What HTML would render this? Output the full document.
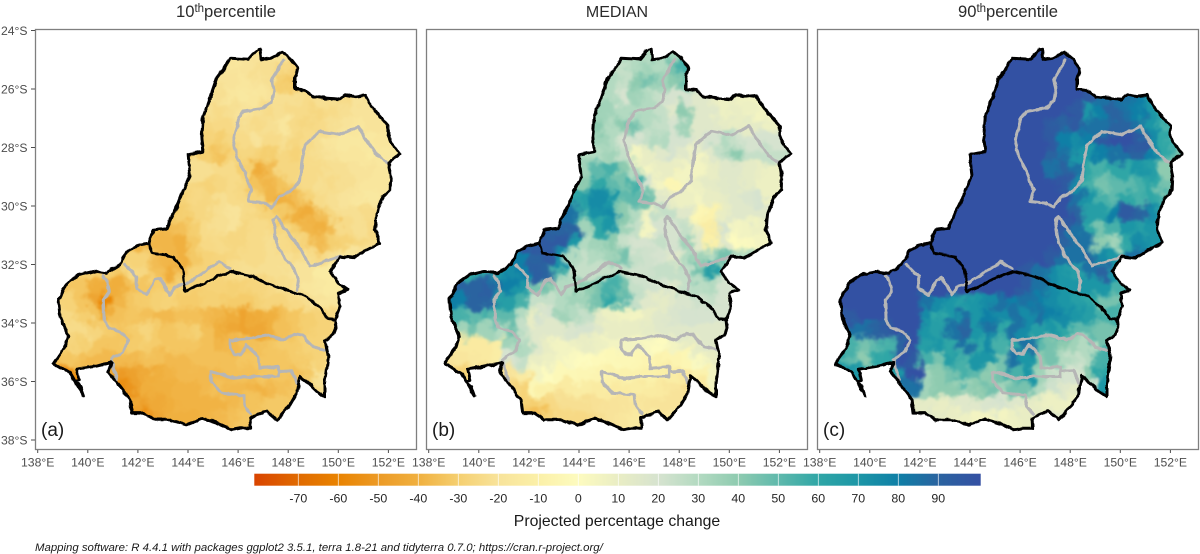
<!DOCTYPE html>
<html lang="en">
<head>
<meta charset="utf-8">
<title>Projected percentage change maps</title>
<style>
html,body{margin:0;padding:0;background:#fff;}
body{width:1200px;height:554px;overflow:hidden;}
svg{display:block;font-family:"Liberation Sans",Arial,sans-serif;}
</style>
</head>
<body>
<svg id="chart" xmlns="http://www.w3.org/2000/svg" width="1200" height="554" viewBox="0 0 1200 554">
  <rect width="1200" height="554" fill="#fff"/>
  <defs id="defs">
    <filter id="soft" filterUnits="userSpaceOnUse" x="0" y="0" width="1200" height="554" color-interpolation-filters="sRGB">
      <feGaussianBlur in="SourceGraphic" stdDeviation="2" result="b"/>
      <feTurbulence type="fractalNoise" baseFrequency="0.07" numOctaves="3" seed="4" result="n"/>
      <feDisplacementMap in="b" in2="n" scale="22" xChannelSelector="R" yChannelSelector="G"/>
      <feGaussianBlur stdDeviation="0.7"/>
    </filter>
    <filter id="wobble" filterUnits="userSpaceOnUse" x="0" y="0" width="1200" height="554" color-interpolation-filters="sRGB">
      <feTurbulence type="fractalNoise" baseFrequency="0.13" numOctaves="2" seed="9" result="n"/>
      <feDisplacementMap in="SourceGraphic" in2="n" scale="3.5" xChannelSelector="R" yChannelSelector="G"/>
    </filter>
  </defs>
  <text x="226" y="17" text-anchor="middle" font-size="16.6" fill="#2b2b2b">10<tspan font-size="11.5" dy="-5">th</tspan><tspan dy="5">percentile</tspan></text>
  <text x="617" y="17" text-anchor="middle" font-size="16" fill="#2b2b2b">MEDIAN</text>
  <text x="1008" y="17" text-anchor="middle" font-size="16.6" fill="#2b2b2b">90<tspan font-size="11.5" dy="-5">th</tspan><tspan dy="5">percentile</tspan></text>
  <g id="panels"></g>
  <g id="legend"></g>
  <text x="617" y="526" text-anchor="middle" font-size="15.8" fill="#1a1a1a">Projected percentage change</text>
  <text x="35" y="551" font-size="11.4" font-style="italic" fill="#1a1a1a">Mapping software: R 4.4.1 with packages ggplot2 3.5.1, terra 1.8-21 and tidyterra 0.7.0; https://cran.r-project.org/</text>
</svg>
<script>
// ---- axis data ----
const lonTicks = [138,140,142,144,146,148,150,152];
const latTicks = [24,26,28,30,32,34,36,38];
const panelLetters = ["(a)","(b)","(c)"];
const legendTicks = [-70,-60,-50,-40,-30,-20,-10,0,10,20,30,40,50,60,70,80,90];
const legendStops = [-81,-70,-60,-50,-40,-30,-20,-10,0,10,20,30,40,50,60,70,80,90,100.6];
const legendColors = ["#d94400","#e06a00","#e98300","#ec9a25","#f0b03f","#f5cf70","#f8e39a","#fbf0a8","#fdfbbf","#e9edc4","#d6e3cf","#b3dac1","#8ecbb0","#5fb9ac","#2fa6a6","#1c96a6","#0f7fa6","#2a63a0","#3450a3"];

// ---- raster grid: rows from 24.5S every 0.5 deg, columns from 138.5E every 0.5 deg ----
const panelA = [
[-20,-20,-20,-20,-20,-20,-20,-20,-20,-20,-20,-20,-20,-20,-20,-20,-20,-20,-20,-20,-20,-20,-20,-20,-20,-20,-20,-20],
[-20,-20,-20,-20,-20,-20,-20,-20,-20,-20,-20,-20,-20,-20,-18,-20,-22,-22,-25,-28,-25,-25,-25,-25,-25,-25,-25,-25],
[-20,-20,-20,-20,-20,-20,-20,-20,-20,-20,-20,-20,-20,-20,-20,-18,-20,-22,-30,-32,-22,-22,-22,-22,-22,-22,-22,-22],
[-18,-18,-18,-18,-18,-18,-18,-18,-18,-18,-18,-18,-18,-22,-18,-16,-18,-20,-22,-22,-24,-22,-22,-24,-20,-22,-22,-22],
[-22,-22,-22,-22,-22,-22,-22,-22,-22,-22,-22,-22,-22,-24,-22,-20,-22,-24,-22,-24,-24,-26,-24,-22,-20,-20,-20,-20],
[-25,-25,-25,-25,-25,-25,-25,-25,-25,-25,-25,-25,-26,-25,-25,-22,-24,-22,-18,-24,-26,-24,-22,-20,-18,-20,-20,-18],
[-28,-28,-28,-28,-28,-28,-28,-28,-28,-28,-28,-28,-28,-30,-26,-24,-20,-24,-22,-26,-24,-22,-18,-16,-16,-16,-18,-18],
[-30,-30,-30,-30,-30,-30,-30,-30,-30,-30,-30,-30,-30,-34,-28,-26,-28,-30,-26,-28,-24,-22,-20,-18,-18,-15,-16,-16],
[-22,-22,-22,-22,-22,-22,-22,-22,-22,-22,-22,-22,-22,-24,-24,-30,-42,-36,-26,-26,-24,-24,-22,-22,-20,-20,-18,-18],
[-25,-25,-25,-25,-25,-25,-25,-25,-25,-25,-25,-26,-28,-26,-24,-26,-34,-38,-34,-26,-24,-22,-24,-22,-20,-18,-18,-18],
[-28,-28,-28,-28,-28,-28,-28,-28,-28,-28,-28,-25,-26,-22,-24,-25,-28,-38,-40,-36,-28,-24,-22,-20,-18,-16,-18,-18],
[-32,-32,-32,-32,-32,-32,-32,-32,-32,-32,-30,-26,-26,-22,-20,-24,-26,-28,-32,-40,-42,-36,-26,-22,-22,-24,-24,-24],
[-35,-35,-35,-35,-35,-35,-35,-35,-35,-36,-35,-30,-24,-22,-20,-26,-24,-25,-26,-30,-38,-40,-36,-24,-22,-25,-25,-25],
[-38,-38,-38,-38,-38,-38,-38,-38,-38,-38,-40,-32,-25,-24,-26,-26,-24,-22,-24,-26,-28,-36,-30,-28,-26,-24,-22,-22],
[-28,-28,-28,-28,-28,-28,-28,-28,-36,-38,-40,-32,-28,-27,-26,-24,-24,-22,-22,-24,-22,-25,-22,-18,-20,-20,-20,-20],
[-30,-30,-30,-30,-30,-32,-25,-26,-35,-42,-36,-28,-28,-28,-24,-22,-22,-22,-22,-20,-20,-14,-14,-12,-12,-12,-12,-12],
[-33,-33,-33,-41,-41,-41,-35,-33,-31,-31,-29,-28,-28,-28,-29,-28,-27,-25,-23,-21,-18,-16,-15,-14,-14,-14,-14,-14],
[-28,-28,-33,-45,-58,-38,-33,-31,-29,-28,-31,-31,-29,-29,-31,-31,-29,-27,-27,-25,-22,-20,-18,-16,-16,-16,-16,-16],
[-25,-25,-30,-34,-42,-35,-33,-35,-37,-37,-35,-35,-37,-38,-42,-46,-42,-40,-35,-33,-30,-28,-25,-22,-22,-22,-22,-22],
[-24,-24,-24,-27,-31,-33,-31,-27,-31,-33,-31,-29,-35,-40,-44,-46,-44,-40,-35,-33,-30,-28,-28,-28,-28,-28,-28,-28],
[-27,-27,-29,-33,-33,-33,-31,-30,-31,-33,-33,-33,-35,-38,-37,-35,-35,-33,-31,-31,-28,-28,-26,-26,-26,-26,-26,-26],
[-35,-33,-35,-37,-37,-37,-37,-35,-35,-37,-37,-35,-35,-35,-35,-33,-33,-33,-33,-31,-30,-28,-25,-25,-25,-25,-25,-25],
[-50,-55,-42,-35,-40,-50,-47,-43,-41,-39,-37,-37,-37,-37,-35,-35,-35,-33,-33,-35,-32,-20,-18,-18,-18,-18,-18,-18],
[-55,-55,-60,-55,-55,-55,-52,-41,-40,-40,-39,-39,-37,-35,-37,-37,-39,-37,-35,-33,-29,-22,-20,-20,-20,-20,-20,-20],
[-44,-44,-44,-44,-44,-44,-44,-47,-43,-41,-39,-39,-39,-39,-37,-35,-34,-32,-32,-32,-32,-32,-32,-32,-32,-32,-32,-32],
[-50,-50,-50,-50,-50,-50,-50,-55,-45,-40,-40,-40,-38,-37,-35,-33,-32,-32,-32,-32,-32,-32,-32,-32,-32,-32,-32,-32]
];
const panelB = [
[30,30,30,30,30,30,30,30,30,30,30,30,30,30,30,30,30,35,35,40,30,30,30,30,30,30,30,30],
[30,30,30,30,30,30,30,30,30,30,30,30,30,25,25,30,35,30,45,55,30,30,30,30,30,30,30,30],
[30,30,30,30,30,30,30,30,30,30,30,30,30,30,25,40,45,35,40,45,25,25,25,25,25,25,25,25],
[30,30,30,30,30,30,30,30,30,30,30,30,30,30,20,35,30,25,20,20,15,10,8,8,6,5,5,5],
[35,35,35,35,35,35,35,35,35,35,35,35,35,35,30,30,30,25,15,40,15,15,8,10,8,5,5,5],
[40,40,40,40,40,40,40,40,40,40,40,40,40,30,40,45,30,25,20,35,15,15,12,10,12,12,8,8],
[35,35,35,35,35,35,35,35,35,35,35,35,35,30,20,20,25,30,20,20,15,20,30,25,20,20,20,20],
[30,30,30,30,30,30,30,30,30,30,30,30,30,35,25,5,10,15,20,15,5,15,25,40,25,25,25,25],
[35,35,35,35,35,35,35,35,35,35,35,35,50,55,40,30,5,10,10,5,5,10,15,15,12,10,8,8],
[40,40,40,40,40,40,40,40,40,40,40,40,60,50,45,55,20,5,-5,5,8,12,14,15,12,8,8,8],
[60,60,60,60,60,60,60,60,60,60,60,65,75,70,50,50,45,15,10,8,5,10,12,15,18,20,8,8],
[85,85,85,85,85,85,85,85,85,85,85,55,72,75,40,30,8,25,25,15,-5,-8,10,15,15,15,15,15],
[90,90,90,90,90,90,90,90,90,90,90,35,60,70,35,25,5,20,20,25,10,-12,20,5,6,8,8,8],
[95,95,95,95,95,95,95,95,95,95,70,30,35,40,25,20,20,25,20,35,15,-10,15,0,2,5,5,5],
[80,80,80,80,80,80,80,90,95,75,30,25,30,35,45,25,22,20,15,30,35,30,45,30,30,30,30,30],
[60,60,60,60,70,75,80,92,90,55,25,25,25,25,25,22,22,25,25,25,45,65,40,30,30,30,30,30],
[90,90,90,92,85,80,70,45,40,30,30,40,45,55,45,25,22,20,15,25,28,30,20,20,20,20,20,20],
[80,80,90,90,65,65,55,25,25,30,35,35,45,60,50,25,15,12,15,18,22,25,20,15,15,15,15,15],
[55,55,50,55,50,50,30,10,20,35,30,25,12,8,6,5,10,15,18,20,20,20,20,20,20,20,20,20],
[35,35,45,35,30,45,25,15,15,15,18,20,15,10,10,10,12,15,15,15,15,15,15,15,15,15,15,15],
[-15,-15,-15,-15,-12,35,30,15,10,5,8,10,8,5,5,5,2,0,5,10,12,15,15,15,15,15,15,15],
[-20,-18,-16,-15,-12,20,25,10,8,5,2,0,-2,-3,-4,-5,-6,-8,-6,-5,2,10,10,10,10,10,10,10],
[-25,-28,-26,-22,-20,-20,-15,5,0,-3,-4,-5,-6,-8,-8,-8,-9,-10,-12,-15,-8,5,5,5,5,5,5,5],
[-28,-28,-28,-28,-28,-25,-28,-5,-10,-15,-14,-12,-14,-15,-14,-12,-14,-15,-18,-22,-15,5,5,5,5,5,5,5],
[-28,-28,-28,-28,-28,-28,-28,-30,-25,-22,-22,-22,-21,-20,-19,-18,-19,-20,-20,-20,-20,-20,-20,-20,-20,-20,-20,-20],
[-30,-30,-30,-30,-30,-30,-30,-35,-28,-25,-25,-25,-22,-20,-18,-15,-15,-15,-15,-15,-15,-15,-15,-15,-15,-15,-15,-15]
];
const panelC = [
[100,100,100,100,100,100,100,100,100,100,100,100,100,100,100,100,100,100,100,100,100,100,100,100,100,100,100,100],
[100,100,100,100,100,100,100,100,100,100,100,100,100,100,100,100,100,100,100,100,100,100,100,100,100,100,100,100],
[100,100,100,100,100,100,100,100,100,100,100,100,100,100,100,100,100,100,100,100,100,100,100,100,100,100,100,100],
[100,100,100,100,100,100,100,100,100,100,100,100,100,100,100,100,100,100,100,100,95,85,85,85,80,70,70,70],
[100,100,100,100,100,100,100,100,100,100,100,100,100,100,100,100,100,100,100,95,70,80,90,85,80,70,60,60],
[100,100,100,100,100,100,100,100,100,100,100,100,100,100,100,100,100,95,90,95,85,85,90,90,85,70,55,55],
[100,100,100,100,100,100,100,100,100,100,100,100,100,100,100,100,100,95,80,75,80,95,100,100,95,75,60,55],
[100,100,100,100,100,100,100,100,100,100,100,100,100,100,100,100,100,90,85,70,70,80,85,85,90,80,60,45],
[100,100,100,100,100,100,100,100,100,100,100,100,100,100,100,100,100,85,90,85,60,55,60,60,70,65,40,40],
[100,100,100,100,100,100,100,100,100,100,100,100,100,100,100,100,100,100,95,75,55,45,50,50,55,60,45,45],
[100,100,100,100,100,100,100,100,100,100,100,100,100,100,100,100,100,100,100,85,70,55,50,60,55,60,55,55],
[100,100,100,100,100,100,100,100,100,100,100,100,100,100,100,100,100,100,100,90,65,65,80,95,90,75,60,60],
[100,100,100,100,100,100,100,100,100,100,100,100,100,100,100,100,100,100,95,85,60,45,55,70,65,70,70,70],
[100,100,100,100,100,100,100,100,100,100,100,100,100,100,100,100,100,100,90,85,85,40,35,60,75,70,70,70],
[100,100,100,100,100,100,100,100,100,100,100,100,100,100,100,100,100,95,85,85,90,75,70,85,85,85,85,85],
[100,100,100,100,100,100,100,100,100,100,100,100,100,100,100,95,85,75,70,65,85,90,70,65,65,65,65,65],
[100,100,100,100,100,100,100,100,100,100,100,100,100,100,100,95,85,75,70,70,70,70,55,55,55,55,55,55],
[100,100,100,100,100,100,100,85,75,70,65,70,75,85,80,85,80,75,70,65,60,45,45,45,45,45,45,45],
[95,95,100,100,100,100,100,75,60,70,85,70,80,75,85,75,85,80,75,70,65,55,55,55,55,55,55,55],
[85,85,85,90,95,100,100,70,65,85,90,70,85,60,85,75,65,70,60,50,50,45,45,45,45,45,45,45],
[55,55,45,50,55,90,100,65,70,60,85,60,75,55,60,85,50,45,40,35,30,45,45,45,45,45,45,45],
[60,50,40,60,60,100,95,55,45,65,55,70,70,45,85,70,40,45,30,25,30,55,55,55,55,55,55,55],
[70,70,65,60,65,70,100,35,40,45,55,50,40,45,55,70,35,25,20,20,40,60,60,60,60,60,60,60],
[85,85,85,85,85,85,85,35,40,40,35,40,45,35,45,45,30,22,15,12,22,70,70,70,70,70,70,70],
[12,12,12,12,12,12,12,12,10,14,15,15,18,20,16,12,10,8,8,8,8,8,8,8,8,8,8,8],
[15,15,15,15,15,15,15,15,12,10,8,5,5,5,8,10,12,15,15,15,15,15,15,15,15,15,15,15]
];

// ---- geography in degrees (lon, south lat) ----
const basinOutline = [[146.74,24.66],[146.88,24.64],[146.92,25.00],[147.28,24.95],[147.78,24.74],[148.07,24.95],[148.38,25.29],[148.27,25.63],[148.27,26.01],[148.67,26.05],[149.00,26.26],[149.47,26.31],[150.07,26.35],[150.27,26.20],[150.67,26.26],[151.07,26.22],[151.24,26.48],[151.60,26.88],[152.00,27.26],[152.00,27.57],[152.13,27.85],[152.46,28.22],[152.13,28.42],[152.00,28.54],[152.09,28.99],[152.07,29.45],[151.80,29.68],[151.53,30.25],[151.47,30.81],[151.67,31.27],[151.13,31.50],[150.60,31.78],[150.07,31.73],[149.67,32.24],[150.00,32.64],[150.38,32.87],[150.00,32.98],[150.07,33.44],[149.87,33.89],[149.91,34.18],[149.80,34.41],[149.47,34.58],[149.60,35.15],[149.47,36.06],[149.47,36.52],[149.14,36.34],[148.81,36.06],[148.47,35.81],[148.34,36.40],[148.07,36.80],[147.54,37.31],[147.14,37.03],[146.74,37.14],[146.48,37.26],[146.50,37.60],[146.08,37.60],[145.74,37.65],[145.15,37.42],[144.61,37.26],[143.95,37.48],[143.28,37.31],[142.62,37.31],[142.22,37.08],[141.75,37.08],[141.69,36.63],[141.29,36.17],[140.82,35.66],[140.95,35.35],[140.36,35.47],[139.56,35.58],[139.66,35.95],[139.49,36.00],[139.69,36.17],[139.82,36.49],[139.49,36.00],[139.29,35.71],[138.63,35.38],[139.09,34.81],[139.22,34.46],[138.89,33.78],[138.83,33.21],[139.16,32.64],[139.62,32.36],[140.22,32.24],[140.75,32.30],[141.29,32.01],[141.55,31.56],[141.95,31.36],[142.42,31.27],[142.62,30.81],[143.15,30.76],[143.35,30.36],[143.62,29.90],[143.82,29.45],[144.08,28.99],[143.99,28.25],[144.61,28.14],[144.55,27.62],[144.61,26.94],[144.88,26.31],[145.15,25.63],[145.41,25.34],[145.68,24.95],[146.41,24.98],[146.74,24.66]];
const dividerLine = [[142.42,31.27],[142.55,31.61],[143.42,31.73],[143.79,32.18],[143.88,32.92],[144.48,32.70],[145.01,32.47],[145.68,32.24],[146.61,32.41],[147.14,32.64],[147.67,32.81],[148.74,33.10],[149.27,33.49],[149.60,33.87],[149.87,33.89]];
const riverNorth = [[147.81,25.00],[147.54,25.40],[147.34,25.69],[147.43,26.03],[147.34,26.43],[147.01,26.66],[146.21,26.77],[146.01,27.05],[145.81,27.74],[145.94,28.31],[146.21,28.76],[146.41,29.22],[146.54,29.45],[146.41,29.85],[147.01,29.90],[147.34,30.04],[147.61,29.73],[148.07,29.50],[148.47,29.16],[148.54,28.54],[148.67,27.91],[149.27,27.45],[150.07,27.57],[150.80,27.28],[151.07,27.68],[151.47,28.19],[152.00,28.54]];
const riverCentral = [[148.34,32.87],[148.41,32.53],[148.27,32.19],[147.81,31.73],[147.54,31.27],[147.47,30.93],[147.41,30.47],[147.54,30.36],[147.81,30.70],[148.20,31.16],[148.47,31.44],[148.87,32.05],[149.67,31.84],[150.07,31.71]];
const riverDarling = [[141.49,32.01],[141.95,32.41],[141.95,32.81],[142.35,33.04],[142.68,32.53],[142.88,32.47],[143.28,33.04],[143.48,32.76],[143.95,32.64],[144.75,32.19],[145.21,31.90],[145.68,32.13]];
const riverWest = [[140.62,32.39],[140.78,32.58],[140.86,32.92],[140.62,33.21],[140.65,33.89],[140.82,34.15],[141.29,34.29],[141.62,34.58],[141.42,34.98],[140.95,35.24],[141.02,35.55],[141.18,35.95]];
const riverLachlan = [[149.47,34.92],[149.00,34.81],[148.54,34.41],[148.27,34.37],[147.87,34.58],[147.14,34.41],[146.54,34.52],[145.68,34.58],[145.68,34.86],[145.88,35.07],[146.10,35.07],[146.34,34.75],[146.81,35.15],[146.85,35.55],[147.61,35.49],[147.61,35.83],[147.14,35.83],[146.41,35.83],[145.81,35.89],[145.41,35.78],[144.91,35.66],[144.91,36.00],[145.35,36.40],[146.21,36.46],[146.28,36.86],[146.50,37.11]];
const riverMurrayBranch = [[147.61,35.66],[148.14,35.63],[148.34,36.06]];
const riverLines = [riverNorth,riverCentral,riverDarling,riverWest,riverLachlan,riverMurrayBranch];

// ---- axis functions ----
const NS = "http://www.w3.org/2000/svg";
function xMap(lon, off){ return off + 37.7 + (lon - 138) * 25.05; }
function yMap(lat){ return 30.5 + (lat - 24) * 29.25; }
function xLegend(v){ return 578.3 + v * 4; }
function mk(tag, attrs){
  const e = document.createElementNS(NS, tag);
  for (const k in attrs) e.setAttribute(k, attrs[k]);
  return e;
}
function hexRgb(h){ return [1,3,5].map(i => parseInt(h.substr(i,2),16)); }
function colour(v){
  const s = legendStops, c = legendColors;
  if (v <= s[0]) return c[0];
  for (let i = 1; i < s.length; i++) {
    if (v <= s[i]) {
      const t = (v - s[i-1]) / (s[i] - s[i-1]);
      const a = hexRgb(c[i-1]), b = hexRgb(c[i]);
      return "rgb(" + a.map((q,j) => Math.round(q + (b[j]-q)*t)).join(",") + ")";
    }
  }
  return c[c.length-1];
}
function pathOf(pts, off){
  return pts.map((p,i) => (i ? "L" : "M") + xMap(p[0],off).toFixed(1) + " " + yMap(p[1]).toFixed(1)).join("");
}

// ---- panels ----
const panelGrids = [panelA, panelB, panelC];
const panelOffsets = [0, 391, 782];
const panelsRoot = document.getElementById("panels");
const defs = document.getElementById("defs");

panelGrids.forEach(function(grid, idx){
  const off = panelOffsets[idx];
  const letter = "abc"[idx];
  const g = mk("g", {});
  
  
  panelsRoot.appendChild(g);

  const cp = mk("clipPath", {id: "clip" + letter});
  cp.appendChild(mk("path", {d: pathOf(basinOutline, off)}));
  defs.appendChild(cp);

  const clipped = mk("g", {"clip-path": "url(#clip" + letter + ")"});
  
  
  g.appendChild(clipped);
  const cells = mk("g", {filter: "url(#soft)"});
  
  
  clipped.appendChild(cells);
  const lastRow = grid.length - 1;
  grid.forEach(function(row, r){
    const lastCol = row.length - 1;
    row.forEach(function(v, c){
      const lon = 138.5 + c * 0.5, lat = 24.5 + r * 0.5;
      // edge cells extend past the grid so the outline clip never shows a gap
      const x0 = xMap(lon, off) - (c === 0 ? 20 : 0);
      const x1 = xMap(lon + 0.5, off) + (c === lastCol ? 20 : 0.6);
      const y0 = yMap(lat) - (r === 0 ? 20 : 0);
      const y1 = yMap(lat + 0.5) + (r === lastRow ? 30 : 0.6);
      const cell = mk("rect", {x: x0.toFixed(1), y: y0.toFixed(1), width: (x1 - x0).toFixed(1), height: (y1 - y0).toFixed(1), fill: colour(v)});
      
      
      cells.appendChild(cell);
    });
  });

  const lines = mk("g", {filter: "url(#wobble)"});
  
  
  g.appendChild(lines);
  riverLines.forEach(function(line){
    const p = mk("path", {d: pathOf(line, off), fill: "none", stroke: "#b6b6b6", "stroke-width": 3, "stroke-linejoin": "round", "stroke-linecap": "round"});
    
    
    lines.appendChild(p);
  });
  const divider = mk("path", {d: pathOf(dividerLine, off), fill: "none", stroke: "#000", "stroke-width": 2.8, "stroke-linejoin": "round"});
  
  
  lines.appendChild(divider);
  const outline = mk("path", {d: pathOf(basinOutline, off), fill: "none", stroke: "#000", "stroke-width": 3, "stroke-linejoin": "round"});
  
  
  lines.appendChild(outline);

  const frame = mk("rect", {x: 35.5 + off, y: 29.5, width: 381, height: 420, fill: "none", stroke: "#7f7f7f", "stroke-width": 1.3});
  
  
  g.appendChild(frame);

  lonTicks.forEach(function(t){
    const x = xMap(t, off);
    const tick = mk("line", {x1: x, x2: x, y1: 450, y2: 453, stroke: "#4d4d4d", "stroke-width": 1});
    
    
    g.appendChild(tick);
    const lab = mk("text", {x: x, y: 466.5, "text-anchor": "middle", "font-size": 12.2, fill: "#4d4d4d"});
    
    
    lab.textContent = t + "°E";
    g.appendChild(lab);
  });

  const tag = mk("text", {x: 41 + off, y: 436, "font-size": 19, fill: "#1a1a1a"});
  
  
  tag.textContent = panelLetters[idx];
  g.appendChild(tag);
});

latTicks.forEach(function(t){
  const y = yMap(t);
  const tick = mk("line", {x1: 31, x2: 35, y1: y, y2: y, stroke: "#4d4d4d", "stroke-width": 1});
  
  
  panelsRoot.appendChild(tick);
  const lab = mk("text", {x: 27.5, y: y + 4.4, "text-anchor": "end", "font-size": 12.2, fill: "#4d4d4d"});
  
  
  lab.textContent = t + "°S";
  panelsRoot.appendChild(lab);
});

// ---- legend ----
const legendRoot = document.getElementById("legend");
const grad = mk("linearGradient", {id: "legendGrad", gradientUnits: "userSpaceOnUse", x1: xLegend(legendStops[0]), x2: xLegend(legendStops[legendStops.length-1]), y1: 0, y2: 0});
legendStops.forEach(function(s, i){
  const span = legendStops[legendStops.length-1] - legendStops[0];
  grad.appendChild(mk("stop", {offset: ((s - legendStops[0]) / span).toFixed(4), "stop-color": legendColors[i]}));
});
defs.appendChild(grad);
const bar = mk("rect", {x: xLegend(legendStops[0]), y: 473.7, width: xLegend(legendStops[legendStops.length-1]) - xLegend(legendStops[0]), height: 12, fill: "url(#legendGrad)"});


legendRoot.appendChild(bar);
legendTicks.forEach(function(t){
  const x = xLegend(t);
  const tick = mk("line", {x1: x, x2: x, y1: 473.7, y2: 485.7, stroke: "#fff", "stroke-width": 0.8, "stroke-opacity": 0.8});
  
  
  legendRoot.appendChild(tick);
  const lab = mk("text", {x: x, y: 502.5, "text-anchor": "middle", "font-size": 12.4, fill: "#262626"});
  
  
  lab.textContent = t;
  legendRoot.appendChild(lab);
});
</script>
</body>
</html>
